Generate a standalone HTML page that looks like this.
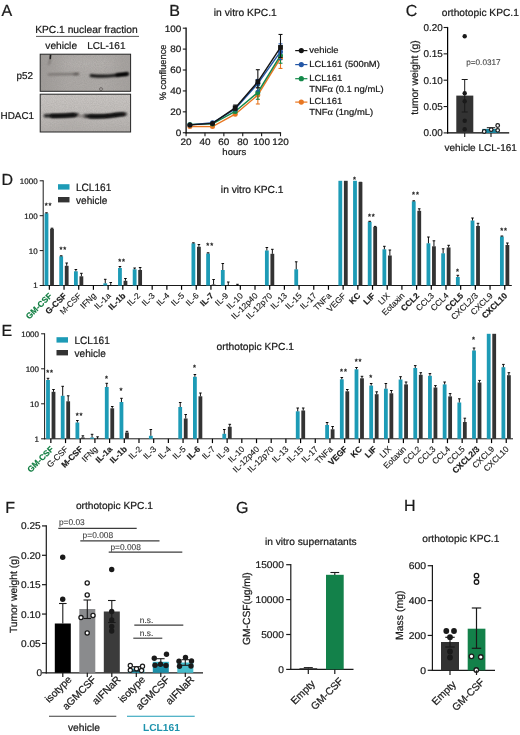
<!DOCTYPE html>
<html lang="en"><head><meta charset="utf-8"><title>Figure</title>
<style>
html,body{margin:0;padding:0;background:#fff;}
body{width:520px;height:735px;overflow:hidden;}
svg{display:block;font-family:"Liberation Sans",Arial,Helvetica,sans-serif;fill:#1a1a1a;text-rendering:geometricPrecision;}
</style></head><body>
<svg width="520" height="735" viewBox="0 0 520 735">
<rect x="0" y="0" width="520" height="735" fill="#ffffff"/>
<text transform="translate(1.50 16.00)" font-size="16" stroke="#1a1a1a" stroke-width="0.22">A</text>
<text transform="translate(169.30 15.50)" font-size="16" stroke="#1a1a1a" stroke-width="0.22">B</text>
<text transform="translate(405.80 15.70)" font-size="16" stroke="#1a1a1a" stroke-width="0.22">C</text>
<text transform="translate(1.50 185.00)" font-size="16" stroke="#1a1a1a" stroke-width="0.22">D</text>
<text transform="translate(1.50 335.60)" font-size="16" stroke="#1a1a1a" stroke-width="0.22">E</text>
<text transform="translate(5.20 513.00)" font-size="16" stroke="#1a1a1a" stroke-width="0.22">F</text>
<text transform="translate(236.00 513.00)" font-size="16" stroke="#1a1a1a" stroke-width="0.22">G</text>
<text transform="translate(404.00 510.80)" font-size="16" stroke="#1a1a1a" stroke-width="0.22">H</text>
<text transform="translate(35.20 33.20)" font-size="10.25" stroke="#1a1a1a" stroke-width="0.22">KPC.1 nuclear fraction</text>
<line x1="36" y1="36.4" x2="139" y2="36.4" stroke="#444" stroke-width="0.9"/>
<text transform="translate(61.20 48.60)" font-size="10.2" text-anchor="middle" stroke="#1a1a1a" stroke-width="0.22">vehicle</text>
<text transform="translate(106.30 48.60)" font-size="10" text-anchor="middle" stroke="#1a1a1a" stroke-width="0.22">LCL-161</text>
<text transform="translate(16.40 79.00)" font-size="9.9" stroke="#1a1a1a" stroke-width="0.22">p52</text>
<text transform="translate(0.60 118.60)" font-size="9.9" stroke="#1a1a1a" stroke-width="0.22">HDAC1</text>
<defs>
<filter id="b1" filterUnits="userSpaceOnUse" x="30" y="45" width="110" height="95"><feGaussianBlur stdDeviation="0.65"/></filter>
<filter id="b2" filterUnits="userSpaceOnUse" x="30" y="45" width="110" height="95"><feGaussianBlur stdDeviation="0.85"/></filter>
<filter id="b3" filterUnits="userSpaceOnUse" x="30" y="45" width="110" height="95"><feGaussianBlur stdDeviation="4"/></filter>
<filter id="nz" x="0" y="0" width="100%" height="100%"><feTurbulence type="fractalNoise" baseFrequency="0.9" numOctaves="2" seed="7"/><feColorMatrix type="matrix" values="0 0 0 0 0.3  0 0 0 0 0.29  0 0 0 0 0.28  0.9 0.5 0 0 -0.52"/></filter>
<linearGradient id="g1" x1="0" x2="1" y1="0" y2="0"><stop offset="0" stop-color="#9f9b98"/><stop offset="0.3" stop-color="#aca8a5"/><stop offset="0.7" stop-color="#aeaaa7"/><stop offset="1" stop-color="#a5a19e"/></linearGradient>
<linearGradient id="g2" x1="0" x2="0" y1="0" y2="1"><stop offset="0" stop-color="#c9c5c2"/><stop offset="0.4" stop-color="#c3bfbc"/><stop offset="1" stop-color="#b3afac"/></linearGradient>
<clipPath id="c1"><rect x="40.2" y="54.2" width="90.4" height="37.1"/></clipPath>
<clipPath id="c2"><rect x="40.2" y="94.2" width="90.4" height="37.8"/></clipPath>
</defs>
<rect x="40.20" y="54.20" width="90.40" height="37.10" fill="url(#g1)"/>
<g clip-path="url(#c1)">
<ellipse cx="88" cy="64" rx="28" ry="6" fill="#b8b4b1" filter="url(#b3)" opacity="0.8"/>
<rect x="40" y="54" width="91" height="38" filter="url(#nz)" opacity="0.8"/>
<path d="M48.5 74.6 L78.3 74.1" stroke="#5f5a57" stroke-width="1.5" stroke-linecap="round" fill="none" filter="url(#b2)" opacity="0.9"/>
<path d="M74 74.2 L78.2 74.0" stroke="#4f4a47" stroke-width="1.3" stroke-linecap="round" fill="none" filter="url(#b2)"/>
<path d="M91 75.6 Q104 76.7 114 75.5 T127.4 73.9" stroke="#020202" stroke-width="2.7" stroke-linecap="round" fill="none" filter="url(#b2)"/>
<path d="M117 75.0 Q122 74.4 127 73.9" stroke="#050505" stroke-width="3.0" stroke-linecap="round" fill="none" filter="url(#b2)"/>
<path d="M50.6 54.4 L50.2 59.2" stroke="#1f1c1b" stroke-width="1.7" fill="none" filter="url(#b1)"/>
<path d="M50.1 59 L49.6 62.5 L48.4 64.8" stroke="#6a6562" stroke-width="1.3" fill="none" filter="url(#b2)"/>
<circle cx="101" cy="89.1" r="1.5" fill="none" stroke="#6f6b68" stroke-width="1.0" filter="url(#b1)"/>
</g>
<rect x="40.20" y="54.20" width="90.40" height="37.10" fill="none" stroke="#262626" stroke-width="1"/>
<rect x="40.20" y="94.20" width="90.40" height="37.80" fill="url(#g2)"/>
<g clip-path="url(#c2)">
<rect x="40" y="94" width="91" height="39" filter="url(#nz)" opacity="0.6"/>
<ellipse cx="70" cy="124" rx="14" ry="3" fill="#a9a5a2" filter="url(#b3)" opacity="0.6"/>
<path d="M45.3 115.7 Q60 116.3 77.3 114.8" stroke="#0c0b0b" stroke-width="3.0" stroke-linecap="round" fill="none" filter="url(#b2)"/>
<path d="M52 115.8 Q62 116.2 74 115.2" stroke="#080707" stroke-width="3.8" stroke-linecap="round" fill="none" filter="url(#b2)"/>
<path d="M85 116.0 Q100 117.0 112 115.5 T125.4 114.0" stroke="#0c0b0b" stroke-width="3.0" stroke-linecap="round" fill="none" filter="url(#b2)"/>
<path d="M90 116.3 Q102 116.8 112 115.5 T122.5 114.4" stroke="#080707" stroke-width="3.7" stroke-linecap="round" fill="none" filter="url(#b2)"/>
<path d="M78 116 L85 116.2" stroke="#7a7572" stroke-width="2.0" fill="none" filter="url(#b2)"/>
</g>
<rect x="40.20" y="94.20" width="90.40" height="37.80" fill="none" stroke="#262626" stroke-width="1"/>
<text transform="translate(245.30 15.60)" font-size="10.3" text-anchor="middle" stroke="#1a1a1a" stroke-width="0.22">in vitro KPC.1</text>
<line x1="186.1" y1="27.589999999999996" x2="186.1" y2="133.35" stroke="#000" stroke-width="1.25"/>
<line x1="185.5" y1="132.75" x2="281.1" y2="132.75" stroke="#000" stroke-width="1.25"/>
<line x1="182.79999999999998" y1="132.75" x2="186.1" y2="132.75" stroke="#1a1a1a" stroke-width="1.1"/>
<text transform="translate(181.30 136.10) scale(1.06 1)" font-size="9.4" text-anchor="end" stroke="#1a1a1a" stroke-width="0.22">0</text>
<line x1="182.79999999999998" y1="111.838" x2="186.1" y2="111.838" stroke="#1a1a1a" stroke-width="1.1"/>
<text transform="translate(181.30 115.19) scale(1.06 1)" font-size="9.4" text-anchor="end" stroke="#1a1a1a" stroke-width="0.22">20</text>
<line x1="182.79999999999998" y1="90.92599999999999" x2="186.1" y2="90.92599999999999" stroke="#1a1a1a" stroke-width="1.1"/>
<text transform="translate(181.30 94.28) scale(1.06 1)" font-size="9.4" text-anchor="end" stroke="#1a1a1a" stroke-width="0.22">40</text>
<line x1="182.79999999999998" y1="70.014" x2="186.1" y2="70.014" stroke="#1a1a1a" stroke-width="1.1"/>
<text transform="translate(181.30 73.36) scale(1.06 1)" font-size="9.4" text-anchor="end" stroke="#1a1a1a" stroke-width="0.22">60</text>
<line x1="182.79999999999998" y1="49.10199999999999" x2="186.1" y2="49.10199999999999" stroke="#1a1a1a" stroke-width="1.1"/>
<text transform="translate(181.30 52.45) scale(1.06 1)" font-size="9.4" text-anchor="end" stroke="#1a1a1a" stroke-width="0.22">80</text>
<line x1="182.79999999999998" y1="28.189999999999998" x2="186.1" y2="28.189999999999998" stroke="#1a1a1a" stroke-width="1.1"/>
<text transform="translate(181.30 31.54) scale(1.06 1)" font-size="9.4" text-anchor="end" stroke="#1a1a1a" stroke-width="0.22">100</text>
<line x1="186.1" y1="132.75" x2="186.1" y2="136.25" stroke="#1a1a1a" stroke-width="1.1"/>
<text transform="translate(186.10 144.85) scale(1.06 1)" font-size="9.4" text-anchor="middle" stroke="#1a1a1a" stroke-width="0.22">20</text>
<line x1="204.98" y1="132.75" x2="204.98" y2="136.25" stroke="#1a1a1a" stroke-width="1.1"/>
<text transform="translate(204.98 144.85) scale(1.06 1)" font-size="9.4" text-anchor="middle" stroke="#1a1a1a" stroke-width="0.22">40</text>
<line x1="223.85999999999999" y1="132.75" x2="223.85999999999999" y2="136.25" stroke="#1a1a1a" stroke-width="1.1"/>
<text transform="translate(223.86 144.85) scale(1.06 1)" font-size="9.4" text-anchor="middle" stroke="#1a1a1a" stroke-width="0.22">60</text>
<line x1="242.74" y1="132.75" x2="242.74" y2="136.25" stroke="#1a1a1a" stroke-width="1.1"/>
<text transform="translate(242.74 144.85) scale(1.06 1)" font-size="9.4" text-anchor="middle" stroke="#1a1a1a" stroke-width="0.22">80</text>
<line x1="261.62" y1="132.75" x2="261.62" y2="136.25" stroke="#1a1a1a" stroke-width="1.1"/>
<text transform="translate(261.62 144.85) scale(1.06 1)" font-size="9.4" text-anchor="middle" stroke="#1a1a1a" stroke-width="0.22">100</text>
<line x1="280.5" y1="132.75" x2="280.5" y2="136.25" stroke="#1a1a1a" stroke-width="1.1"/>
<text transform="translate(280.50 144.85) scale(1.06 1)" font-size="9.4" text-anchor="middle" stroke="#1a1a1a" stroke-width="0.22">120</text>
<text transform="translate(234.30 155.10) scale(1.04 1)" font-size="9.2" text-anchor="middle" stroke="#1a1a1a" stroke-width="0.22">hours</text>
<text transform="translate(165.50 72.40) rotate(-90)" font-size="9.3" text-anchor="middle" stroke="#1a1a1a" stroke-width="0.22">% confluence</text>
<line x1="257.844" y1="87.7892" x2="257.844" y2="103.996" stroke="#e87722" stroke-width="1.1"/>
<line x1="255.844" y1="87.7892" x2="259.844" y2="87.7892" stroke="#e87722" stroke-width="1.1"/>
<line x1="255.844" y1="103.996" x2="259.844" y2="103.996" stroke="#e87722" stroke-width="1.1"/>
<line x1="280.5" y1="49.10199999999999" x2="280.5" y2="68.4456" stroke="#e87722" stroke-width="1.1"/>
<line x1="278.5" y1="49.10199999999999" x2="282.5" y2="49.10199999999999" stroke="#e87722" stroke-width="1.1"/>
<line x1="278.5" y1="68.4456" x2="282.5" y2="68.4456" stroke="#e87722" stroke-width="1.1"/>
<polyline points="189.9,126.5 212.5,126.6 235.2,114.2 257.8,95.1 280.5,58.0" fill="none" stroke="#e87722" stroke-width="1.45"/>
<circle cx="189.9" cy="126.5" r="2.5" fill="#e87722"/>
<circle cx="212.5" cy="126.6" r="2.5" fill="#e87722"/>
<circle cx="235.2" cy="114.2" r="2.5" fill="#e87722"/>
<circle cx="257.8" cy="95.1" r="2.5" fill="#e87722"/>
<circle cx="280.5" cy="58.0" r="2.5" fill="#e87722"/>
<line x1="257.844" y1="85.698" x2="257.844" y2="99.29079999999999" stroke="#14894a" stroke-width="1.1"/>
<line x1="255.844" y1="85.698" x2="259.844" y2="85.698" stroke="#14894a" stroke-width="1.1"/>
<line x1="255.844" y1="99.29079999999999" x2="259.844" y2="99.29079999999999" stroke="#14894a" stroke-width="1.1"/>
<line x1="280.5" y1="47.01079999999999" x2="280.5" y2="63.21759999999999" stroke="#14894a" stroke-width="1.1"/>
<line x1="278.5" y1="47.01079999999999" x2="282.5" y2="47.01079999999999" stroke="#14894a" stroke-width="1.1"/>
<line x1="278.5" y1="63.21759999999999" x2="282.5" y2="63.21759999999999" stroke="#14894a" stroke-width="1.1"/>
<polyline points="189.9,124.4 212.5,123.9 235.2,111.5 257.8,92.5 280.5,55.4" fill="none" stroke="#14894a" stroke-width="1.45"/>
<circle cx="189.9" cy="124.4" r="2.5" fill="#14894a"/>
<circle cx="212.5" cy="123.9" r="2.5" fill="#14894a"/>
<circle cx="235.2" cy="111.5" r="2.5" fill="#14894a"/>
<circle cx="257.8" cy="92.5" r="2.5" fill="#14894a"/>
<circle cx="280.5" cy="55.4" r="2.5" fill="#14894a"/>
<line x1="257.844" y1="79.42439999999999" x2="257.844" y2="90.92599999999999" stroke="#2457a6" stroke-width="1.1"/>
<line x1="255.844" y1="79.42439999999999" x2="259.844" y2="79.42439999999999" stroke="#2457a6" stroke-width="1.1"/>
<line x1="255.844" y1="90.92599999999999" x2="259.844" y2="90.92599999999999" stroke="#2457a6" stroke-width="1.1"/>
<line x1="280.5" y1="43.873999999999995" x2="280.5" y2="59.55799999999999" stroke="#2457a6" stroke-width="1.1"/>
<line x1="278.5" y1="43.873999999999995" x2="282.5" y2="43.873999999999995" stroke="#2457a6" stroke-width="1.1"/>
<line x1="278.5" y1="59.55799999999999" x2="282.5" y2="59.55799999999999" stroke="#2457a6" stroke-width="1.1"/>
<polyline points="189.9,124.9 212.5,122.8 235.2,109.0 257.8,83.6 280.5,51.7" fill="none" stroke="#2457a6" stroke-width="1.45"/>
<circle cx="189.9" cy="124.9" r="2.5" fill="#2457a6"/>
<circle cx="212.5" cy="122.8" r="2.5" fill="#2457a6"/>
<circle cx="235.2" cy="109.0" r="2.5" fill="#2457a6"/>
<circle cx="257.8" cy="83.6" r="2.5" fill="#2457a6"/>
<circle cx="280.5" cy="51.7" r="2.5" fill="#2457a6"/>
<line x1="235.188" y1="105.0416" x2="235.188" y2="110.2696" stroke="#141414" stroke-width="1.1"/>
<line x1="233.188" y1="105.0416" x2="237.188" y2="105.0416" stroke="#141414" stroke-width="1.1"/>
<line x1="233.188" y1="110.2696" x2="237.188" y2="110.2696" stroke="#141414" stroke-width="1.1"/>
<line x1="257.844" y1="69.70032" x2="257.844" y2="87.7892" stroke="#141414" stroke-width="1.1"/>
<line x1="255.844" y1="69.70032" x2="259.844" y2="69.70032" stroke="#141414" stroke-width="1.1"/>
<line x1="255.844" y1="87.7892" x2="259.844" y2="87.7892" stroke="#141414" stroke-width="1.1"/>
<line x1="280.5" y1="34.463599999999985" x2="280.5" y2="57.46679999999999" stroke="#141414" stroke-width="1.1"/>
<line x1="278.5" y1="34.463599999999985" x2="282.5" y2="34.463599999999985" stroke="#141414" stroke-width="1.1"/>
<line x1="278.5" y1="57.46679999999999" x2="282.5" y2="57.46679999999999" stroke="#141414" stroke-width="1.1"/>
<polyline points="189.9,124.9 212.5,123.4 235.2,107.9 257.8,81.8 280.5,47.4" fill="none" stroke="#141414" stroke-width="1.45"/>
<circle cx="189.9" cy="124.9" r="2.5" fill="#141414"/>
<circle cx="212.5" cy="123.4" r="2.5" fill="#141414"/>
<rect x="232.79" y="105.46" width="4.80" height="4.80" fill="#141414"/>
<rect x="255.44" y="79.43" width="4.80" height="4.80" fill="#141414"/>
<rect x="278.10" y="45.03" width="4.80" height="4.80" fill="#141414"/>
<line x1="295.2" y1="50.6" x2="307.4" y2="50.6" stroke="#141414" stroke-width="1.2"/>
<circle cx="301.3" cy="50.6" r="2.6" fill="#141414"/>
<line x1="295.2" y1="64.6" x2="307.4" y2="64.6" stroke="#2457a6" stroke-width="1.2"/>
<circle cx="301.3" cy="64.6" r="2.6" fill="#2457a6"/>
<line x1="295.2" y1="78.7" x2="307.4" y2="78.7" stroke="#14894a" stroke-width="1.2"/>
<circle cx="301.3" cy="78.7" r="2.6" fill="#14894a"/>
<line x1="295.2" y1="102.1" x2="307.4" y2="102.1" stroke="#e87722" stroke-width="1.2"/>
<circle cx="301.3" cy="102.1" r="2.6" fill="#e87722"/>
<text transform="translate(309.20 52.60) scale(1.07 1)" font-size="8.8" stroke="#1a1a1a" stroke-width="0.22">vehicle</text>
<text transform="translate(309.20 66.60) scale(1.07 1)" font-size="8.8" stroke="#1a1a1a" stroke-width="0.22">LCL161 (500nM)</text>
<text transform="translate(309.20 80.80) scale(1.07 1)" font-size="8.8" stroke="#1a1a1a" stroke-width="0.22">LCL161</text>
<text transform="translate(309.20 92.00) scale(1.07 1)" font-size="8.8" stroke="#1a1a1a" stroke-width="0.22">TNF<tspan font-family="Liberation Serif, DejaVu Serif, serif" font-size="9.6">α</tspan> (0.1 ng/mL)</text>
<text transform="translate(309.20 104.00) scale(1.07 1)" font-size="8.8" stroke="#1a1a1a" stroke-width="0.22">LCL161</text>
<text transform="translate(309.20 115.10) scale(1.07 1)" font-size="8.8" stroke="#1a1a1a" stroke-width="0.22">TNF<tspan font-family="Liberation Serif, DejaVu Serif, serif" font-size="9.6">α</tspan> (1ng/mL)</text>
<text transform="translate(480.30 15.70)" font-size="10.2" text-anchor="middle" stroke="#1a1a1a" stroke-width="0.22">orthotopic KPC.1</text>
<line x1="447.6" y1="26.9" x2="447.6" y2="133.5" stroke="#000" stroke-width="1.25"/>
<line x1="447.0" y1="132.9" x2="509.2" y2="132.9" stroke="#000" stroke-width="1.25"/>
<line x1="443.6" y1="132.9" x2="447.6" y2="132.9" stroke="#1a1a1a" stroke-width="1.1"/>
<text transform="translate(442.80 136.40)" font-size="9.9" text-anchor="end" stroke="#1a1a1a" stroke-width="0.22">0.00</text>
<line x1="443.6" y1="106.55000000000001" x2="447.6" y2="106.55000000000001" stroke="#1a1a1a" stroke-width="1.1"/>
<text transform="translate(442.80 110.05)" font-size="9.9" text-anchor="end" stroke="#1a1a1a" stroke-width="0.22">0.05</text>
<line x1="443.6" y1="80.2" x2="447.6" y2="80.2" stroke="#1a1a1a" stroke-width="1.1"/>
<text transform="translate(442.80 83.70)" font-size="9.9" text-anchor="end" stroke="#1a1a1a" stroke-width="0.22">0.10</text>
<line x1="443.6" y1="53.85000000000001" x2="447.6" y2="53.85000000000001" stroke="#1a1a1a" stroke-width="1.1"/>
<text transform="translate(442.80 57.35)" font-size="9.9" text-anchor="end" stroke="#1a1a1a" stroke-width="0.22">0.15</text>
<line x1="443.6" y1="27.5" x2="447.6" y2="27.5" stroke="#1a1a1a" stroke-width="1.1"/>
<text transform="translate(442.80 31.00)" font-size="9.9" text-anchor="end" stroke="#1a1a1a" stroke-width="0.22">0.20</text>
<text transform="translate(418.20 77.50) rotate(-90)" font-size="10.3" text-anchor="middle" stroke="#1a1a1a" stroke-width="0.22">tumor weight (g)</text>
<rect x="456.30" y="95.60" width="17.00" height="37.30" fill="#333333"/>
<line x1="464.7" y1="79.5" x2="464.7" y2="112" stroke="#1a1a1a" stroke-width="1.0"/>
<line x1="461.7" y1="79.5" x2="467.7" y2="79.5" stroke="#1a1a1a" stroke-width="1.0"/>
<line x1="461.7" y1="112" x2="467.7" y2="112" stroke="#1a1a1a" stroke-width="1.0"/>
<circle cx="464.7" cy="36.2" r="2.2" fill="#1a1a1a"/>
<circle cx="464.7" cy="93.2" r="2.2" fill="#1a1a1a"/>
<circle cx="464.7" cy="101.2" r="2.2" fill="#1a1a1a"/>
<circle cx="464.7" cy="120.8" r="2.2" fill="#1a1a1a"/>
<circle cx="464.7" cy="129.2" r="2.2" fill="#1a1a1a"/>
<rect x="482.30" y="128.90" width="16.80" height="4.00" fill="#1a88a2"/>
<line x1="491" y1="127.7" x2="491" y2="131.8" stroke="#1a1a1a" stroke-width="1.0"/>
<line x1="486.8" y1="127.7" x2="495.2" y2="127.7" stroke="#1a1a1a" stroke-width="1.0"/>
<circle cx="484.2" cy="131.5" r="1.8" fill="#fff" stroke="#1a1a1a" stroke-width="1.25"/>
<circle cx="491.2" cy="129.6" r="1.8" fill="#fff" stroke="#1a1a1a" stroke-width="1.25"/>
<circle cx="497.7" cy="125.5" r="1.8" fill="#fff" stroke="#1a1a1a" stroke-width="1.25"/>
<circle cx="497.7" cy="130.3" r="1.8" fill="#fff" stroke="#1a1a1a" stroke-width="1.25"/>
<line x1="464.7" y1="132.9" x2="464.7" y2="136.9" stroke="#1a1a1a" stroke-width="1.1"/>
<line x1="491" y1="132.9" x2="491" y2="136.9" stroke="#1a1a1a" stroke-width="1.1"/>
<text transform="translate(460.10 150.50)" font-size="10" text-anchor="middle" stroke="#1a1a1a" stroke-width="0.22">vehicle</text>
<text transform="translate(497.70 150.50)" font-size="10" text-anchor="middle" stroke="#1a1a1a" stroke-width="0.22">LCL-161</text>
<text transform="translate(483.40 64.90)" font-size="8.2" text-anchor="middle" fill="#444" stroke="#444" stroke-width="0.1">p=0.0317</text>
<line x1="43.2" y1="180.3" x2="43.2" y2="286.0" stroke="#1a1a1a" stroke-width="1.0"/>
<line x1="42.7" y1="285.5" x2="511.8" y2="285.5" stroke="#1a1a1a" stroke-width="1.0"/>
<line x1="39.7" y1="285.5" x2="43.2" y2="285.5" stroke="#1a1a1a" stroke-width="1.0"/>
<text transform="translate(37.60 288.40)" font-size="8.0" text-anchor="end" stroke="#1a1a1a" stroke-width="0.22">1</text>
<line x1="39.7" y1="250.6" x2="43.2" y2="250.6" stroke="#1a1a1a" stroke-width="1.0"/>
<text transform="translate(37.60 253.50)" font-size="8.0" text-anchor="end" stroke="#1a1a1a" stroke-width="0.22">10</text>
<line x1="39.7" y1="215.7" x2="43.2" y2="215.7" stroke="#1a1a1a" stroke-width="1.0"/>
<text transform="translate(37.60 218.60)" font-size="8.0" text-anchor="end" stroke="#1a1a1a" stroke-width="0.22">100</text>
<line x1="39.7" y1="180.8" x2="43.2" y2="180.8" stroke="#1a1a1a" stroke-width="1.0"/>
<text transform="translate(37.60 183.70)" font-size="8.0" text-anchor="end" stroke="#1a1a1a" stroke-width="0.22">1000</text>
<line x1="49.35" y1="285.5" x2="49.35" y2="289.8" stroke="#000" stroke-width="1.2"/>
<rect x="44.60" y="213.30" width="3.80" height="72.20" fill="#1d9bb6"/>
<line x1="46.5" y1="212.8" x2="46.5" y2="213.3" stroke="#000" stroke-width="0.95"/>
<line x1="45.2" y1="212.8" x2="47.8" y2="212.8" stroke="#000" stroke-width="0.95"/>
<rect x="50.10" y="228.80" width="3.80" height="56.70" fill="#333333"/>
<line x1="52.0" y1="228.2" x2="52.0" y2="228.8" stroke="#000" stroke-width="0.95"/>
<line x1="50.7" y1="228.2" x2="53.3" y2="228.2" stroke="#000" stroke-width="0.95"/>
<text transform="translate(52.60 296.30) rotate(-45)" font-size="8.4" text-anchor="end" font-weight="bold" fill="#0f7d40" stroke="#0f7d40" stroke-width="0.18">GM-CSF</text>
<line x1="64.03999999999999" y1="285.5" x2="64.03999999999999" y2="289.8" stroke="#000" stroke-width="1.2"/>
<rect x="59.29" y="256.30" width="3.80" height="29.20" fill="#1d9bb6"/>
<line x1="61.19" y1="255.8" x2="61.19" y2="256.3" stroke="#000" stroke-width="0.95"/>
<line x1="59.89" y1="255.8" x2="62.489999999999995" y2="255.8" stroke="#000" stroke-width="0.95"/>
<rect x="64.79" y="265.80" width="3.80" height="19.70" fill="#333333"/>
<line x1="66.69" y1="263" x2="66.69" y2="265.8" stroke="#000" stroke-width="0.95"/>
<line x1="65.39" y1="263" x2="67.99" y2="263" stroke="#000" stroke-width="0.95"/>
<text transform="translate(67.20 296.30) rotate(-45)" font-size="8.4" text-anchor="end" font-weight="bold" stroke="#1a1a1a" stroke-width="0.18">G-CSF</text>
<line x1="78.73" y1="285.5" x2="78.73" y2="289.8" stroke="#000" stroke-width="1.2"/>
<rect x="73.98" y="271.30" width="3.80" height="14.20" fill="#1d9bb6"/>
<line x1="75.88000000000001" y1="269.5" x2="75.88000000000001" y2="271.3" stroke="#000" stroke-width="0.95"/>
<line x1="74.58000000000001" y1="269.5" x2="77.18" y2="269.5" stroke="#000" stroke-width="0.95"/>
<rect x="79.48" y="276.30" width="3.80" height="9.20" fill="#333333"/>
<line x1="81.38000000000001" y1="273.3" x2="81.38000000000001" y2="276.3" stroke="#000" stroke-width="0.95"/>
<line x1="80.08000000000001" y1="273.3" x2="82.68" y2="273.3" stroke="#000" stroke-width="0.95"/>
<text transform="translate(81.90 296.30) rotate(-45)" font-size="8.4" text-anchor="end" stroke="#1a1a1a" stroke-width="0.13">M-CSF</text>
<line x1="93.42" y1="285.5" x2="93.42" y2="289.8" stroke="#000" stroke-width="1.2"/>
<text transform="translate(96.60 296.30) rotate(-45)" font-size="8.4" text-anchor="end" stroke="#1a1a1a" stroke-width="0.13">IFNg</text>
<line x1="108.11" y1="285.5" x2="108.11" y2="289.8" stroke="#000" stroke-width="1.2"/>
<rect x="103.36" y="283.30" width="3.80" height="2.20" fill="#1d9bb6"/>
<line x1="105.26" y1="279.3" x2="105.26" y2="283.3" stroke="#000" stroke-width="0.95"/>
<line x1="103.96000000000001" y1="279.3" x2="106.56" y2="279.3" stroke="#000" stroke-width="0.95"/>
<line x1="110.76" y1="282.5" x2="110.76" y2="285.5" stroke="#000" stroke-width="0.95"/>
<line x1="109.46000000000001" y1="282.5" x2="112.06" y2="282.5" stroke="#000" stroke-width="0.95"/>
<text transform="translate(111.30 296.30) rotate(-45)" font-size="8.4" text-anchor="end" stroke="#1a1a1a" stroke-width="0.13">IL-1a</text>
<line x1="122.80000000000001" y1="285.5" x2="122.80000000000001" y2="289.8" stroke="#000" stroke-width="1.2"/>
<rect x="118.05" y="268.00" width="3.80" height="17.50" fill="#1d9bb6"/>
<line x1="119.95000000000002" y1="266.5" x2="119.95000000000002" y2="268" stroke="#000" stroke-width="0.95"/>
<line x1="118.65000000000002" y1="266.5" x2="121.25000000000001" y2="266.5" stroke="#000" stroke-width="0.95"/>
<rect x="123.55" y="280.80" width="3.80" height="4.70" fill="#333333"/>
<line x1="125.45000000000002" y1="278.5" x2="125.45000000000002" y2="280.8" stroke="#000" stroke-width="0.95"/>
<line x1="124.15000000000002" y1="278.5" x2="126.75000000000001" y2="278.5" stroke="#000" stroke-width="0.95"/>
<text transform="translate(126.00 296.30) rotate(-45)" font-size="8.4" text-anchor="end" font-weight="bold" stroke="#1a1a1a" stroke-width="0.18">IL-1b</text>
<line x1="137.49" y1="285.5" x2="137.49" y2="289.8" stroke="#000" stroke-width="1.2"/>
<rect x="132.74" y="269.30" width="3.80" height="16.20" fill="#1d9bb6"/>
<line x1="134.64000000000001" y1="268" x2="134.64000000000001" y2="269.3" stroke="#000" stroke-width="0.95"/>
<line x1="133.34" y1="268" x2="135.94000000000003" y2="268" stroke="#000" stroke-width="0.95"/>
<rect x="138.24" y="270.00" width="3.80" height="15.50" fill="#333333"/>
<line x1="140.14000000000001" y1="267.5" x2="140.14000000000001" y2="270" stroke="#000" stroke-width="0.95"/>
<line x1="138.84" y1="267.5" x2="141.44000000000003" y2="267.5" stroke="#000" stroke-width="0.95"/>
<text transform="translate(140.70 296.30) rotate(-45)" font-size="8.4" text-anchor="end" stroke="#1a1a1a" stroke-width="0.13">IL-2</text>
<line x1="152.18" y1="285.5" x2="152.18" y2="289.8" stroke="#000" stroke-width="1.2"/>
<text transform="translate(155.40 296.30) rotate(-45)" font-size="8.4" text-anchor="end" stroke="#1a1a1a" stroke-width="0.13">IL-3</text>
<line x1="166.87" y1="285.5" x2="166.87" y2="289.8" stroke="#000" stroke-width="1.2"/>
<text transform="translate(170.10 296.30) rotate(-45)" font-size="8.4" text-anchor="end" stroke="#1a1a1a" stroke-width="0.13">IL-4</text>
<line x1="181.56" y1="285.5" x2="181.56" y2="289.8" stroke="#000" stroke-width="1.2"/>
<text transform="translate(184.80 296.30) rotate(-45)" font-size="8.4" text-anchor="end" stroke="#1a1a1a" stroke-width="0.13">IL-5</text>
<line x1="196.25" y1="285.5" x2="196.25" y2="289.8" stroke="#000" stroke-width="1.2"/>
<rect x="191.50" y="243.30" width="3.80" height="42.20" fill="#1d9bb6"/>
<line x1="193.4" y1="242.8" x2="193.4" y2="243.3" stroke="#000" stroke-width="0.95"/>
<line x1="192.1" y1="242.8" x2="194.70000000000002" y2="242.8" stroke="#000" stroke-width="0.95"/>
<rect x="197.00" y="246.80" width="3.80" height="38.70" fill="#333333"/>
<line x1="198.9" y1="244.5" x2="198.9" y2="246.8" stroke="#000" stroke-width="0.95"/>
<line x1="197.6" y1="244.5" x2="200.20000000000002" y2="244.5" stroke="#000" stroke-width="0.95"/>
<text transform="translate(199.40 296.30) rotate(-45)" font-size="8.4" text-anchor="end" stroke="#1a1a1a" stroke-width="0.13">IL-6</text>
<line x1="210.94" y1="285.5" x2="210.94" y2="289.8" stroke="#000" stroke-width="1.2"/>
<rect x="206.19" y="253.50" width="3.80" height="32.00" fill="#1d9bb6"/>
<line x1="208.09" y1="252.8" x2="208.09" y2="253.5" stroke="#000" stroke-width="0.95"/>
<line x1="206.79" y1="252.8" x2="209.39000000000001" y2="252.8" stroke="#000" stroke-width="0.95"/>
<rect x="211.69" y="284.50" width="3.80" height="1.00" fill="#333333"/>
<line x1="213.59" y1="279.5" x2="213.59" y2="284.5" stroke="#000" stroke-width="0.95"/>
<line x1="212.29" y1="279.5" x2="214.89000000000001" y2="279.5" stroke="#000" stroke-width="0.95"/>
<text transform="translate(214.10 296.30) rotate(-45)" font-size="8.4" text-anchor="end" font-weight="bold" stroke="#1a1a1a" stroke-width="0.18">IL-7</text>
<line x1="225.63" y1="285.5" x2="225.63" y2="289.8" stroke="#000" stroke-width="1.2"/>
<rect x="220.88" y="270.00" width="3.80" height="15.50" fill="#1d9bb6"/>
<line x1="222.78" y1="263.5" x2="222.78" y2="270" stroke="#000" stroke-width="0.95"/>
<line x1="221.48" y1="263.5" x2="224.08" y2="263.5" stroke="#000" stroke-width="0.95"/>
<line x1="228.28" y1="282" x2="228.28" y2="285.5" stroke="#000" stroke-width="0.95"/>
<line x1="226.98" y1="282" x2="229.58" y2="282" stroke="#000" stroke-width="0.95"/>
<text transform="translate(228.80 296.30) rotate(-45)" font-size="8.4" text-anchor="end" stroke="#1a1a1a" stroke-width="0.13">IL-9</text>
<line x1="240.32" y1="285.5" x2="240.32" y2="289.8" stroke="#000" stroke-width="1.2"/>
<line x1="237.47" y1="284.3" x2="237.47" y2="285.5" stroke="#000" stroke-width="0.95"/>
<line x1="236.17" y1="284.3" x2="238.77" y2="284.3" stroke="#000" stroke-width="0.95"/>
<text transform="translate(243.50 296.30) rotate(-45)" font-size="8.4" text-anchor="end" stroke="#1a1a1a" stroke-width="0.13">IL-10</text>
<line x1="255.01" y1="285.5" x2="255.01" y2="289.8" stroke="#000" stroke-width="1.2"/>
<text transform="translate(258.20 296.30) rotate(-45)" font-size="8.4" text-anchor="end" stroke="#1a1a1a" stroke-width="0.13">IL-12p40</text>
<line x1="269.7" y1="285.5" x2="269.7" y2="289.8" stroke="#000" stroke-width="1.2"/>
<rect x="264.95" y="250.50" width="3.80" height="35.00" fill="#1d9bb6"/>
<line x1="266.84999999999997" y1="247.5" x2="266.84999999999997" y2="250.5" stroke="#000" stroke-width="0.95"/>
<line x1="265.54999999999995" y1="247.5" x2="268.15" y2="247.5" stroke="#000" stroke-width="0.95"/>
<rect x="270.45" y="253.80" width="3.80" height="31.70" fill="#333333"/>
<line x1="272.34999999999997" y1="249.3" x2="272.34999999999997" y2="253.8" stroke="#000" stroke-width="0.95"/>
<line x1="271.04999999999995" y1="249.3" x2="273.65" y2="249.3" stroke="#000" stroke-width="0.95"/>
<text transform="translate(272.90 296.30) rotate(-45)" font-size="8.4" text-anchor="end" stroke="#1a1a1a" stroke-width="0.13">IL-12p70</text>
<line x1="284.39" y1="285.5" x2="284.39" y2="289.8" stroke="#000" stroke-width="1.2"/>
<text transform="translate(287.60 296.30) rotate(-45)" font-size="8.4" text-anchor="end" stroke="#1a1a1a" stroke-width="0.13">IL-13</text>
<line x1="299.08" y1="285.5" x2="299.08" y2="289.8" stroke="#000" stroke-width="1.2"/>
<rect x="294.33" y="269.30" width="3.80" height="16.20" fill="#1d9bb6"/>
<line x1="296.22999999999996" y1="261.8" x2="296.22999999999996" y2="269.3" stroke="#000" stroke-width="0.95"/>
<line x1="294.92999999999995" y1="261.8" x2="297.53" y2="261.8" stroke="#000" stroke-width="0.95"/>
<text transform="translate(302.30 296.30) rotate(-45)" font-size="8.4" text-anchor="end" stroke="#1a1a1a" stroke-width="0.13">IL-15</text>
<line x1="313.77000000000004" y1="285.5" x2="313.77000000000004" y2="289.8" stroke="#000" stroke-width="1.2"/>
<text transform="translate(317.00 296.30) rotate(-45)" font-size="8.4" text-anchor="end" stroke="#1a1a1a" stroke-width="0.13">IL-17</text>
<line x1="328.46000000000004" y1="285.5" x2="328.46000000000004" y2="289.8" stroke="#000" stroke-width="1.2"/>
<text transform="translate(331.70 296.30) rotate(-45)" font-size="8.4" text-anchor="end" stroke="#1a1a1a" stroke-width="0.13">TNFa</text>
<line x1="343.15000000000003" y1="285.5" x2="343.15000000000003" y2="289.8" stroke="#000" stroke-width="1.2"/>
<rect x="338.40" y="180.80" width="3.80" height="104.70" fill="#1d9bb6"/>
<rect x="343.90" y="180.80" width="3.80" height="104.70" fill="#333333"/>
<text transform="translate(346.40 296.30) rotate(-45)" font-size="8.4" text-anchor="end" stroke="#1a1a1a" stroke-width="0.13">VEGF</text>
<line x1="357.84000000000003" y1="285.5" x2="357.84000000000003" y2="289.8" stroke="#000" stroke-width="1.2"/>
<rect x="353.09" y="180.80" width="3.80" height="104.70" fill="#1d9bb6"/>
<rect x="358.59" y="181.80" width="3.80" height="103.70" fill="#333333" rx="0.8"/>
<text transform="translate(361.00 296.30) rotate(-45)" font-size="8.4" text-anchor="end" font-weight="bold" stroke="#1a1a1a" stroke-width="0.18">KC</text>
<line x1="372.53000000000003" y1="285.5" x2="372.53000000000003" y2="289.8" stroke="#000" stroke-width="1.2"/>
<rect x="367.78" y="221.80" width="3.80" height="63.70" fill="#1d9bb6"/>
<line x1="369.68" y1="221.3" x2="369.68" y2="221.8" stroke="#000" stroke-width="0.95"/>
<line x1="368.38" y1="221.3" x2="370.98" y2="221.3" stroke="#000" stroke-width="0.95"/>
<rect x="373.28" y="227.00" width="3.80" height="58.50" fill="#333333"/>
<line x1="375.18" y1="226.4" x2="375.18" y2="227" stroke="#000" stroke-width="0.95"/>
<line x1="373.88" y1="226.4" x2="376.48" y2="226.4" stroke="#000" stroke-width="0.95"/>
<text transform="translate(375.70 296.30) rotate(-45)" font-size="8.4" text-anchor="end" font-weight="bold" stroke="#1a1a1a" stroke-width="0.18">LIF</text>
<line x1="387.22" y1="285.5" x2="387.22" y2="289.8" stroke="#000" stroke-width="1.2"/>
<rect x="382.47" y="249.30" width="3.80" height="36.20" fill="#1d9bb6"/>
<line x1="384.37" y1="246.3" x2="384.37" y2="249.3" stroke="#000" stroke-width="0.95"/>
<line x1="383.07" y1="246.3" x2="385.67" y2="246.3" stroke="#000" stroke-width="0.95"/>
<rect x="387.97" y="255.50" width="3.80" height="30.00" fill="#333333"/>
<line x1="389.87" y1="250" x2="389.87" y2="255.5" stroke="#000" stroke-width="0.95"/>
<line x1="388.57" y1="250" x2="391.17" y2="250" stroke="#000" stroke-width="0.95"/>
<text transform="translate(390.40 296.30) rotate(-45)" font-size="8.4" text-anchor="end" stroke="#1a1a1a" stroke-width="0.13">LIX</text>
<line x1="401.91" y1="285.5" x2="401.91" y2="289.8" stroke="#000" stroke-width="1.2"/>
<text transform="translate(405.10 296.30) rotate(-45)" font-size="8.4" text-anchor="end" stroke="#1a1a1a" stroke-width="0.13">Eotaxin</text>
<line x1="416.6" y1="285.5" x2="416.6" y2="289.8" stroke="#000" stroke-width="1.2"/>
<rect x="411.85" y="201.30" width="3.80" height="84.20" fill="#1d9bb6"/>
<line x1="413.75" y1="200.8" x2="413.75" y2="201.3" stroke="#000" stroke-width="0.95"/>
<line x1="412.45" y1="200.8" x2="415.05" y2="200.8" stroke="#000" stroke-width="0.95"/>
<rect x="417.35" y="210.80" width="3.80" height="74.70" fill="#333333"/>
<line x1="419.25" y1="208.8" x2="419.25" y2="210.8" stroke="#000" stroke-width="0.95"/>
<line x1="417.95" y1="208.8" x2="420.55" y2="208.8" stroke="#000" stroke-width="0.95"/>
<text transform="translate(419.80 296.30) rotate(-45)" font-size="8.4" text-anchor="end" font-weight="bold" stroke="#1a1a1a" stroke-width="0.18">CCL2</text>
<line x1="431.29" y1="285.5" x2="431.29" y2="289.8" stroke="#000" stroke-width="1.2"/>
<rect x="426.54" y="243.30" width="3.80" height="42.20" fill="#1d9bb6"/>
<line x1="428.44" y1="237" x2="428.44" y2="243.3" stroke="#000" stroke-width="0.95"/>
<line x1="427.14" y1="237" x2="429.74" y2="237" stroke="#000" stroke-width="0.95"/>
<rect x="432.04" y="246.30" width="3.80" height="39.20" fill="#333333"/>
<line x1="433.94" y1="240.8" x2="433.94" y2="246.3" stroke="#000" stroke-width="0.95"/>
<line x1="432.64" y1="240.8" x2="435.24" y2="240.8" stroke="#000" stroke-width="0.95"/>
<text transform="translate(434.50 296.30) rotate(-45)" font-size="8.4" text-anchor="end" stroke="#1a1a1a" stroke-width="0.13">CCL3</text>
<line x1="445.98" y1="285.5" x2="445.98" y2="289.8" stroke="#000" stroke-width="1.2"/>
<rect x="441.23" y="253.30" width="3.80" height="32.20" fill="#1d9bb6"/>
<line x1="443.13" y1="248.8" x2="443.13" y2="253.3" stroke="#000" stroke-width="0.95"/>
<line x1="441.83" y1="248.8" x2="444.43" y2="248.8" stroke="#000" stroke-width="0.95"/>
<rect x="446.73" y="247.50" width="3.80" height="38.00" fill="#333333"/>
<line x1="448.63" y1="245.3" x2="448.63" y2="247.5" stroke="#000" stroke-width="0.95"/>
<line x1="447.33" y1="245.3" x2="449.93" y2="245.3" stroke="#000" stroke-width="0.95"/>
<text transform="translate(449.20 296.30) rotate(-45)" font-size="8.4" text-anchor="end" stroke="#1a1a1a" stroke-width="0.13">CCL4</text>
<line x1="460.67" y1="285.5" x2="460.67" y2="289.8" stroke="#000" stroke-width="1.2"/>
<rect x="455.92" y="277.00" width="3.80" height="8.50" fill="#1d9bb6"/>
<line x1="457.82" y1="275.3" x2="457.82" y2="277" stroke="#000" stroke-width="0.95"/>
<line x1="456.52" y1="275.3" x2="459.12" y2="275.3" stroke="#000" stroke-width="0.95"/>
<text transform="translate(463.90 296.30) rotate(-45)" font-size="8.4" text-anchor="end" font-weight="bold" stroke="#1a1a1a" stroke-width="0.18">CCL5</text>
<line x1="475.36" y1="285.5" x2="475.36" y2="289.8" stroke="#000" stroke-width="1.2"/>
<rect x="470.61" y="220.50" width="3.80" height="65.00" fill="#1d9bb6"/>
<line x1="472.51" y1="218" x2="472.51" y2="220.5" stroke="#000" stroke-width="0.95"/>
<line x1="471.21" y1="218" x2="473.81" y2="218" stroke="#000" stroke-width="0.95"/>
<rect x="476.11" y="226.00" width="3.80" height="59.50" fill="#333333"/>
<line x1="478.01" y1="223.3" x2="478.01" y2="226" stroke="#000" stroke-width="0.95"/>
<line x1="476.71" y1="223.3" x2="479.31" y2="223.3" stroke="#000" stroke-width="0.95"/>
<text transform="translate(478.60 296.30) rotate(-45)" font-size="8.4" text-anchor="end" stroke="#1a1a1a" stroke-width="0.13">CXCL2/3</text>
<line x1="490.05" y1="285.5" x2="490.05" y2="289.8" stroke="#000" stroke-width="1.2"/>
<text transform="translate(493.20 296.30) rotate(-45)" font-size="8.4" text-anchor="end" stroke="#1a1a1a" stroke-width="0.13">CXCL9</text>
<line x1="504.74" y1="285.5" x2="504.74" y2="289.8" stroke="#000" stroke-width="1.2"/>
<rect x="499.99" y="236.50" width="3.80" height="49.00" fill="#1d9bb6"/>
<line x1="501.89" y1="236" x2="501.89" y2="236.5" stroke="#000" stroke-width="0.95"/>
<line x1="500.59" y1="236" x2="503.19" y2="236" stroke="#000" stroke-width="0.95"/>
<rect x="505.49" y="245.00" width="3.80" height="40.50" fill="#333333"/>
<line x1="507.39" y1="243" x2="507.39" y2="245" stroke="#000" stroke-width="0.95"/>
<line x1="506.09" y1="243" x2="508.69" y2="243" stroke="#000" stroke-width="0.95"/>
<text transform="translate(507.90 296.30) rotate(-45)" font-size="8.4" text-anchor="end" font-weight="bold" stroke="#1a1a1a" stroke-width="0.18">CXCL10</text>
<text transform="translate(48.60 207.60)" font-size="7.6" text-anchor="middle" stroke="#1a1a1a" stroke-width="0.3" letter-spacing="0.9">**</text>
<text transform="translate(63.30 251.60)" font-size="7.6" text-anchor="middle" stroke="#1a1a1a" stroke-width="0.3" letter-spacing="0.9">**</text>
<text transform="translate(122.10 263.60)" font-size="7.6" text-anchor="middle" stroke="#1a1a1a" stroke-width="0.3" letter-spacing="0.9">**</text>
<text transform="translate(210.20 248.40)" font-size="7.6" text-anchor="middle" stroke="#1a1a1a" stroke-width="0.3" letter-spacing="0.9">**</text>
<text transform="translate(355.00 181.60)" font-size="7.6" text-anchor="middle" stroke="#1a1a1a" stroke-width="0.3" letter-spacing="0.9">*</text>
<text transform="translate(371.80 218.60)" font-size="7.6" text-anchor="middle" stroke="#1a1a1a" stroke-width="0.3" letter-spacing="0.9">**</text>
<text transform="translate(415.90 197.10)" font-size="7.6" text-anchor="middle" stroke="#1a1a1a" stroke-width="0.3" letter-spacing="0.9">**</text>
<text transform="translate(457.80 273.60)" font-size="7.6" text-anchor="middle" stroke="#1a1a1a" stroke-width="0.3" letter-spacing="0.9">*</text>
<text transform="translate(504.00 233.40)" font-size="7.6" text-anchor="middle" stroke="#1a1a1a" stroke-width="0.3" letter-spacing="0.9">**</text>
<text transform="translate(252.20 193.30)" font-size="10.25" text-anchor="middle" stroke="#1a1a1a" stroke-width="0.22">in vitro KPC.1</text>
<rect x="58.00" y="184.20" width="11.50" height="5.40" fill="#1d9bb6"/>
<rect x="58.00" y="197.00" width="11.50" height="5.40" fill="#333333"/>
<text transform="translate(76.00 190.70) scale(0.95 1)" font-size="10.6" stroke="#1a1a1a" stroke-width="0.22">LCL161</text>
<text transform="translate(76.00 203.60) scale(0.95 1)" font-size="10.6" stroke="#1a1a1a" stroke-width="0.22">vehicle</text>
<line x1="44.6" y1="333.3" x2="44.6" y2="439.3" stroke="#1a1a1a" stroke-width="1.0"/>
<line x1="44.1" y1="438.8" x2="513" y2="438.8" stroke="#1a1a1a" stroke-width="1.0"/>
<line x1="41.1" y1="438.8" x2="44.6" y2="438.8" stroke="#1a1a1a" stroke-width="1.0"/>
<text transform="translate(39.00 441.70)" font-size="8.0" text-anchor="end" stroke="#1a1a1a" stroke-width="0.22">1</text>
<line x1="41.1" y1="403.8" x2="44.6" y2="403.8" stroke="#1a1a1a" stroke-width="1.0"/>
<text transform="translate(39.00 406.70)" font-size="8.0" text-anchor="end" stroke="#1a1a1a" stroke-width="0.22">10</text>
<line x1="41.1" y1="368.8" x2="44.6" y2="368.8" stroke="#1a1a1a" stroke-width="1.0"/>
<text transform="translate(39.00 371.70)" font-size="8.0" text-anchor="end" stroke="#1a1a1a" stroke-width="0.22">100</text>
<line x1="41.1" y1="333.8" x2="44.6" y2="333.8" stroke="#1a1a1a" stroke-width="1.0"/>
<text transform="translate(39.00 336.70)" font-size="8.0" text-anchor="end" stroke="#1a1a1a" stroke-width="0.22">1000</text>
<line x1="50.85" y1="438.8" x2="50.85" y2="443.1" stroke="#000" stroke-width="1.2"/>
<rect x="46.10" y="380.00" width="3.80" height="58.80" fill="#1d9bb6"/>
<line x1="48.0" y1="378.3" x2="48.0" y2="380" stroke="#000" stroke-width="0.95"/>
<line x1="46.7" y1="378.3" x2="49.3" y2="378.3" stroke="#000" stroke-width="0.95"/>
<rect x="51.60" y="391.80" width="3.80" height="47.00" fill="#333333"/>
<line x1="53.5" y1="389.5" x2="53.5" y2="391.8" stroke="#000" stroke-width="0.95"/>
<line x1="52.2" y1="389.5" x2="54.8" y2="389.5" stroke="#000" stroke-width="0.95"/>
<text transform="translate(54.10 449.60) rotate(-45)" font-size="8.4" text-anchor="end" font-weight="bold" fill="#0f7d40" stroke="#0f7d40" stroke-width="0.18">GM-CSF</text>
<line x1="65.53999999999999" y1="438.8" x2="65.53999999999999" y2="443.1" stroke="#000" stroke-width="1.2"/>
<rect x="60.79" y="395.80" width="3.80" height="43.00" fill="#1d9bb6"/>
<line x1="62.69" y1="386.3" x2="62.69" y2="395.8" stroke="#000" stroke-width="0.95"/>
<line x1="61.39" y1="386.3" x2="63.989999999999995" y2="386.3" stroke="#000" stroke-width="0.95"/>
<rect x="66.29" y="401.30" width="3.80" height="37.50" fill="#333333"/>
<line x1="68.19" y1="395.8" x2="68.19" y2="401.3" stroke="#000" stroke-width="0.95"/>
<line x1="66.89" y1="395.8" x2="69.49" y2="395.8" stroke="#000" stroke-width="0.95"/>
<text transform="translate(68.70 449.60) rotate(-45)" font-size="8.4" text-anchor="end" stroke="#1a1a1a" stroke-width="0.13">G-CSF</text>
<line x1="80.23" y1="438.8" x2="80.23" y2="443.1" stroke="#000" stroke-width="1.2"/>
<rect x="75.48" y="422.50" width="3.80" height="16.30" fill="#1d9bb6"/>
<line x1="77.38000000000001" y1="420.5" x2="77.38000000000001" y2="422.5" stroke="#000" stroke-width="0.95"/>
<line x1="76.08000000000001" y1="420.5" x2="78.68" y2="420.5" stroke="#000" stroke-width="0.95"/>
<rect x="80.98" y="437.50" width="3.80" height="1.30" fill="#333333"/>
<line x1="82.88000000000001" y1="435.8" x2="82.88000000000001" y2="437.5" stroke="#000" stroke-width="0.95"/>
<line x1="81.58000000000001" y1="435.8" x2="84.18" y2="435.8" stroke="#000" stroke-width="0.95"/>
<text transform="translate(83.40 449.60) rotate(-45)" font-size="8.4" text-anchor="end" font-weight="bold" stroke="#1a1a1a" stroke-width="0.18">M-CSF</text>
<line x1="94.92" y1="438.8" x2="94.92" y2="443.1" stroke="#000" stroke-width="1.2"/>
<rect x="90.17" y="437.50" width="3.80" height="1.30" fill="#1d9bb6"/>
<line x1="92.07000000000001" y1="434.3" x2="92.07000000000001" y2="437.5" stroke="#000" stroke-width="0.95"/>
<line x1="90.77000000000001" y1="434.3" x2="93.37" y2="434.3" stroke="#000" stroke-width="0.95"/>
<line x1="97.57000000000001" y1="436.8" x2="97.57000000000001" y2="438.8" stroke="#000" stroke-width="0.95"/>
<line x1="96.27000000000001" y1="436.8" x2="98.87" y2="436.8" stroke="#000" stroke-width="0.95"/>
<text transform="translate(98.10 449.60) rotate(-45)" font-size="8.4" text-anchor="end" stroke="#1a1a1a" stroke-width="0.13">IFNg</text>
<line x1="109.61" y1="438.8" x2="109.61" y2="443.1" stroke="#000" stroke-width="1.2"/>
<rect x="104.86" y="387.00" width="3.80" height="51.80" fill="#1d9bb6"/>
<line x1="106.76" y1="383.3" x2="106.76" y2="387" stroke="#000" stroke-width="0.95"/>
<line x1="105.46000000000001" y1="383.3" x2="108.06" y2="383.3" stroke="#000" stroke-width="0.95"/>
<rect x="110.36" y="408.30" width="3.80" height="30.50" fill="#333333"/>
<line x1="112.26" y1="406.5" x2="112.26" y2="408.3" stroke="#000" stroke-width="0.95"/>
<line x1="110.96000000000001" y1="406.5" x2="113.56" y2="406.5" stroke="#000" stroke-width="0.95"/>
<text transform="translate(112.80 449.60) rotate(-45)" font-size="8.4" text-anchor="end" font-weight="bold" stroke="#1a1a1a" stroke-width="0.18">IL-1a</text>
<line x1="124.30000000000001" y1="438.8" x2="124.30000000000001" y2="443.1" stroke="#000" stroke-width="1.2"/>
<rect x="119.55" y="402.00" width="3.80" height="36.80" fill="#1d9bb6"/>
<line x1="121.45000000000002" y1="398.3" x2="121.45000000000002" y2="402" stroke="#000" stroke-width="0.95"/>
<line x1="120.15000000000002" y1="398.3" x2="122.75000000000001" y2="398.3" stroke="#000" stroke-width="0.95"/>
<rect x="125.05" y="432.50" width="3.80" height="6.30" fill="#333333"/>
<line x1="126.95000000000002" y1="431.3" x2="126.95000000000002" y2="432.5" stroke="#000" stroke-width="0.95"/>
<line x1="125.65000000000002" y1="431.3" x2="128.25000000000003" y2="431.3" stroke="#000" stroke-width="0.95"/>
<text transform="translate(127.50 449.60) rotate(-45)" font-size="8.4" text-anchor="end" font-weight="bold" stroke="#1a1a1a" stroke-width="0.18">IL-1b</text>
<line x1="138.99" y1="438.8" x2="138.99" y2="443.1" stroke="#000" stroke-width="1.2"/>
<text transform="translate(142.20 449.60) rotate(-45)" font-size="8.4" text-anchor="end" stroke="#1a1a1a" stroke-width="0.13">IL-2</text>
<line x1="153.68" y1="438.8" x2="153.68" y2="443.1" stroke="#000" stroke-width="1.2"/>
<rect x="148.93" y="435.80" width="3.80" height="3.00" fill="#1d9bb6"/>
<line x1="150.83" y1="429.5" x2="150.83" y2="435.8" stroke="#000" stroke-width="0.95"/>
<line x1="149.53" y1="429.5" x2="152.13000000000002" y2="429.5" stroke="#000" stroke-width="0.95"/>
<text transform="translate(156.90 449.60) rotate(-45)" font-size="8.4" text-anchor="end" stroke="#1a1a1a" stroke-width="0.13">IL-3</text>
<line x1="168.37" y1="438.8" x2="168.37" y2="443.1" stroke="#000" stroke-width="1.2"/>
<text transform="translate(171.60 449.60) rotate(-45)" font-size="8.4" text-anchor="end" stroke="#1a1a1a" stroke-width="0.13">IL-4</text>
<line x1="183.06" y1="438.8" x2="183.06" y2="443.1" stroke="#000" stroke-width="1.2"/>
<rect x="178.31" y="407.00" width="3.80" height="31.80" fill="#1d9bb6"/>
<line x1="180.21" y1="402.5" x2="180.21" y2="407" stroke="#000" stroke-width="0.95"/>
<line x1="178.91" y1="402.5" x2="181.51000000000002" y2="402.5" stroke="#000" stroke-width="0.95"/>
<rect x="183.81" y="418.50" width="3.80" height="20.30" fill="#333333"/>
<line x1="185.71" y1="414.5" x2="185.71" y2="418.5" stroke="#000" stroke-width="0.95"/>
<line x1="184.41" y1="414.5" x2="187.01000000000002" y2="414.5" stroke="#000" stroke-width="0.95"/>
<text transform="translate(186.30 449.60) rotate(-45)" font-size="8.4" text-anchor="end" stroke="#1a1a1a" stroke-width="0.13">IL-5</text>
<line x1="197.75" y1="438.8" x2="197.75" y2="443.1" stroke="#000" stroke-width="1.2"/>
<rect x="193.00" y="376.80" width="3.80" height="62.00" fill="#1d9bb6"/>
<line x1="194.9" y1="374.5" x2="194.9" y2="376.8" stroke="#000" stroke-width="0.95"/>
<line x1="193.6" y1="374.5" x2="196.20000000000002" y2="374.5" stroke="#000" stroke-width="0.95"/>
<rect x="198.50" y="396.30" width="3.80" height="42.50" fill="#333333"/>
<line x1="200.4" y1="393" x2="200.4" y2="396.3" stroke="#000" stroke-width="0.95"/>
<line x1="199.1" y1="393" x2="201.70000000000002" y2="393" stroke="#000" stroke-width="0.95"/>
<text transform="translate(200.90 449.60) rotate(-45)" font-size="8.4" text-anchor="end" font-weight="bold" stroke="#1a1a1a" stroke-width="0.18">IL-6</text>
<line x1="212.44" y1="438.8" x2="212.44" y2="443.1" stroke="#000" stroke-width="1.2"/>
<text transform="translate(215.60 449.60) rotate(-45)" font-size="8.4" text-anchor="end" stroke="#1a1a1a" stroke-width="0.13">IL-7</text>
<line x1="227.13" y1="438.8" x2="227.13" y2="443.1" stroke="#000" stroke-width="1.2"/>
<rect x="222.38" y="433.80" width="3.80" height="5.00" fill="#1d9bb6"/>
<line x1="224.28" y1="429.5" x2="224.28" y2="433.8" stroke="#000" stroke-width="0.95"/>
<line x1="222.98" y1="429.5" x2="225.58" y2="429.5" stroke="#000" stroke-width="0.95"/>
<rect x="227.88" y="426.80" width="3.80" height="12.00" fill="#333333"/>
<line x1="229.78" y1="424.3" x2="229.78" y2="426.8" stroke="#000" stroke-width="0.95"/>
<line x1="228.48" y1="424.3" x2="231.08" y2="424.3" stroke="#000" stroke-width="0.95"/>
<text transform="translate(230.30 449.60) rotate(-45)" font-size="8.4" text-anchor="end" stroke="#1a1a1a" stroke-width="0.13">IL-9</text>
<line x1="241.82" y1="438.8" x2="241.82" y2="443.1" stroke="#000" stroke-width="1.2"/>
<text transform="translate(245.00 449.60) rotate(-45)" font-size="8.4" text-anchor="end" stroke="#1a1a1a" stroke-width="0.13">IL-10</text>
<line x1="256.51" y1="438.8" x2="256.51" y2="443.1" stroke="#000" stroke-width="1.2"/>
<text transform="translate(259.70 449.60) rotate(-45)" font-size="8.4" text-anchor="end" stroke="#1a1a1a" stroke-width="0.13">IL-12p40</text>
<line x1="271.2" y1="438.8" x2="271.2" y2="443.1" stroke="#000" stroke-width="1.2"/>
<text transform="translate(274.40 449.60) rotate(-45)" font-size="8.4" text-anchor="end" stroke="#1a1a1a" stroke-width="0.13">IL-12p70</text>
<line x1="285.89" y1="438.8" x2="285.89" y2="443.1" stroke="#000" stroke-width="1.2"/>
<text transform="translate(289.10 449.60) rotate(-45)" font-size="8.4" text-anchor="end" stroke="#1a1a1a" stroke-width="0.13">IL-13</text>
<line x1="300.58" y1="438.8" x2="300.58" y2="443.1" stroke="#000" stroke-width="1.2"/>
<rect x="295.83" y="411.30" width="3.80" height="27.50" fill="#1d9bb6"/>
<line x1="297.72999999999996" y1="408" x2="297.72999999999996" y2="411.3" stroke="#000" stroke-width="0.95"/>
<line x1="296.42999999999995" y1="408" x2="299.03" y2="408" stroke="#000" stroke-width="0.95"/>
<rect x="301.33" y="410.50" width="3.80" height="28.30" fill="#333333"/>
<line x1="303.22999999999996" y1="408" x2="303.22999999999996" y2="410.5" stroke="#000" stroke-width="0.95"/>
<line x1="301.92999999999995" y1="408" x2="304.53" y2="408" stroke="#000" stroke-width="0.95"/>
<text transform="translate(303.80 449.60) rotate(-45)" font-size="8.4" text-anchor="end" stroke="#1a1a1a" stroke-width="0.13">IL-15</text>
<line x1="315.27000000000004" y1="438.8" x2="315.27000000000004" y2="443.1" stroke="#000" stroke-width="1.2"/>
<text transform="translate(318.50 449.60) rotate(-45)" font-size="8.4" text-anchor="end" stroke="#1a1a1a" stroke-width="0.13">IL-17</text>
<line x1="329.96000000000004" y1="438.8" x2="329.96000000000004" y2="443.1" stroke="#000" stroke-width="1.2"/>
<rect x="325.21" y="425.00" width="3.80" height="13.80" fill="#1d9bb6"/>
<line x1="327.11" y1="422.5" x2="327.11" y2="425" stroke="#000" stroke-width="0.95"/>
<line x1="325.81" y1="422.5" x2="328.41" y2="422.5" stroke="#000" stroke-width="0.95"/>
<rect x="330.71" y="429.30" width="3.80" height="9.50" fill="#333333"/>
<line x1="332.61" y1="426.5" x2="332.61" y2="429.3" stroke="#000" stroke-width="0.95"/>
<line x1="331.31" y1="426.5" x2="333.91" y2="426.5" stroke="#000" stroke-width="0.95"/>
<text transform="translate(333.20 449.60) rotate(-45)" font-size="8.4" text-anchor="end" stroke="#1a1a1a" stroke-width="0.13">TNFa</text>
<line x1="344.65000000000003" y1="438.8" x2="344.65000000000003" y2="443.1" stroke="#000" stroke-width="1.2"/>
<rect x="339.90" y="379.30" width="3.80" height="59.50" fill="#1d9bb6"/>
<line x1="341.8" y1="377.5" x2="341.8" y2="379.3" stroke="#000" stroke-width="0.95"/>
<line x1="340.5" y1="377.5" x2="343.1" y2="377.5" stroke="#000" stroke-width="0.95"/>
<rect x="345.40" y="391.30" width="3.80" height="47.50" fill="#333333"/>
<line x1="347.3" y1="389.5" x2="347.3" y2="391.3" stroke="#000" stroke-width="0.95"/>
<line x1="346.0" y1="389.5" x2="348.6" y2="389.5" stroke="#000" stroke-width="0.95"/>
<text transform="translate(347.90 449.60) rotate(-45)" font-size="8.4" text-anchor="end" font-weight="bold" stroke="#1a1a1a" stroke-width="0.18">VEGF</text>
<line x1="359.34000000000003" y1="438.8" x2="359.34000000000003" y2="443.1" stroke="#000" stroke-width="1.2"/>
<rect x="354.59" y="369.30" width="3.80" height="69.50" fill="#1d9bb6"/>
<line x1="356.49" y1="367.5" x2="356.49" y2="369.3" stroke="#000" stroke-width="0.95"/>
<line x1="355.19" y1="367.5" x2="357.79" y2="367.5" stroke="#000" stroke-width="0.95"/>
<rect x="360.09" y="378.30" width="3.80" height="60.50" fill="#333333"/>
<line x1="361.99" y1="376.3" x2="361.99" y2="378.3" stroke="#000" stroke-width="0.95"/>
<line x1="360.69" y1="376.3" x2="363.29" y2="376.3" stroke="#000" stroke-width="0.95"/>
<text transform="translate(362.50 449.60) rotate(-45)" font-size="8.4" text-anchor="end" font-weight="bold" stroke="#1a1a1a" stroke-width="0.18">KC</text>
<line x1="374.03000000000003" y1="438.8" x2="374.03000000000003" y2="443.1" stroke="#000" stroke-width="1.2"/>
<rect x="369.28" y="385.60" width="3.80" height="53.20" fill="#1d9bb6"/>
<line x1="371.18" y1="383.5" x2="371.18" y2="385.6" stroke="#000" stroke-width="0.95"/>
<line x1="369.88" y1="383.5" x2="372.48" y2="383.5" stroke="#000" stroke-width="0.95"/>
<rect x="374.78" y="394.20" width="3.80" height="44.60" fill="#333333"/>
<line x1="376.68" y1="391.8" x2="376.68" y2="394.2" stroke="#000" stroke-width="0.95"/>
<line x1="375.38" y1="391.8" x2="377.98" y2="391.8" stroke="#000" stroke-width="0.95"/>
<text transform="translate(377.20 449.60) rotate(-45)" font-size="8.4" text-anchor="end" font-weight="bold" stroke="#1a1a1a" stroke-width="0.18">LIF</text>
<line x1="388.72" y1="438.8" x2="388.72" y2="443.1" stroke="#000" stroke-width="1.2"/>
<rect x="383.97" y="388.70" width="3.80" height="50.10" fill="#1d9bb6"/>
<line x1="385.87" y1="383.5" x2="385.87" y2="388.7" stroke="#000" stroke-width="0.95"/>
<line x1="384.57" y1="383.5" x2="387.17" y2="383.5" stroke="#000" stroke-width="0.95"/>
<rect x="389.47" y="393.30" width="3.80" height="45.50" fill="#333333"/>
<line x1="391.37" y1="390.5" x2="391.37" y2="393.3" stroke="#000" stroke-width="0.95"/>
<line x1="390.07" y1="390.5" x2="392.67" y2="390.5" stroke="#000" stroke-width="0.95"/>
<text transform="translate(391.90 449.60) rotate(-45)" font-size="8.4" text-anchor="end" stroke="#1a1a1a" stroke-width="0.13">LIX</text>
<line x1="403.41" y1="438.8" x2="403.41" y2="443.1" stroke="#000" stroke-width="1.2"/>
<rect x="398.66" y="379.50" width="3.80" height="59.30" fill="#1d9bb6"/>
<line x1="400.56" y1="376.7" x2="400.56" y2="379.5" stroke="#000" stroke-width="0.95"/>
<line x1="399.26" y1="376.7" x2="401.86" y2="376.7" stroke="#000" stroke-width="0.95"/>
<rect x="404.16" y="384.40" width="3.80" height="54.40" fill="#333333"/>
<line x1="406.06" y1="382" x2="406.06" y2="384.4" stroke="#000" stroke-width="0.95"/>
<line x1="404.76" y1="382" x2="407.36" y2="382" stroke="#000" stroke-width="0.95"/>
<text transform="translate(406.60 449.60) rotate(-45)" font-size="8.4" text-anchor="end" stroke="#1a1a1a" stroke-width="0.13">Eotaxin</text>
<line x1="418.1" y1="438.8" x2="418.1" y2="443.1" stroke="#000" stroke-width="1.2"/>
<rect x="413.35" y="368.00" width="3.80" height="70.80" fill="#1d9bb6"/>
<line x1="415.25" y1="365.6" x2="415.25" y2="368" stroke="#000" stroke-width="0.95"/>
<line x1="413.95" y1="365.6" x2="416.55" y2="365.6" stroke="#000" stroke-width="0.95"/>
<rect x="418.85" y="374.80" width="3.80" height="64.00" fill="#333333"/>
<line x1="420.75" y1="372.7" x2="420.75" y2="374.8" stroke="#000" stroke-width="0.95"/>
<line x1="419.45" y1="372.7" x2="422.05" y2="372.7" stroke="#000" stroke-width="0.95"/>
<text transform="translate(421.30 449.60) rotate(-45)" font-size="8.4" text-anchor="end" stroke="#1a1a1a" stroke-width="0.13">CCL2</text>
<line x1="432.79" y1="438.8" x2="432.79" y2="443.1" stroke="#000" stroke-width="1.2"/>
<rect x="428.04" y="375.80" width="3.80" height="63.00" fill="#1d9bb6"/>
<line x1="429.94" y1="373.6" x2="429.94" y2="375.8" stroke="#000" stroke-width="0.95"/>
<line x1="428.64" y1="373.6" x2="431.24" y2="373.6" stroke="#000" stroke-width="0.95"/>
<rect x="433.54" y="387.50" width="3.80" height="51.30" fill="#333333"/>
<line x1="435.44" y1="385.6" x2="435.44" y2="387.5" stroke="#000" stroke-width="0.95"/>
<line x1="434.14" y1="385.6" x2="436.74" y2="385.6" stroke="#000" stroke-width="0.95"/>
<text transform="translate(436.00 449.60) rotate(-45)" font-size="8.4" text-anchor="end" stroke="#1a1a1a" stroke-width="0.13">CCL3</text>
<line x1="447.48" y1="438.8" x2="447.48" y2="443.1" stroke="#000" stroke-width="1.2"/>
<rect x="442.73" y="384.40" width="3.80" height="54.40" fill="#1d9bb6"/>
<line x1="444.63" y1="382" x2="444.63" y2="384.4" stroke="#000" stroke-width="0.95"/>
<line x1="443.33" y1="382" x2="445.93" y2="382" stroke="#000" stroke-width="0.95"/>
<rect x="448.23" y="396.40" width="3.80" height="42.40" fill="#333333"/>
<line x1="450.13" y1="393.6" x2="450.13" y2="396.4" stroke="#000" stroke-width="0.95"/>
<line x1="448.83" y1="393.6" x2="451.43" y2="393.6" stroke="#000" stroke-width="0.95"/>
<text transform="translate(450.70 449.60) rotate(-45)" font-size="8.4" text-anchor="end" stroke="#1a1a1a" stroke-width="0.13">CCL4</text>
<line x1="462.17" y1="438.8" x2="462.17" y2="443.1" stroke="#000" stroke-width="1.2"/>
<rect x="457.42" y="402.50" width="3.80" height="36.30" fill="#1d9bb6"/>
<line x1="459.32" y1="398.8" x2="459.32" y2="402.5" stroke="#000" stroke-width="0.95"/>
<line x1="458.02" y1="398.8" x2="460.62" y2="398.8" stroke="#000" stroke-width="0.95"/>
<rect x="462.92" y="422.00" width="3.80" height="16.80" fill="#333333"/>
<line x1="464.82" y1="418.2" x2="464.82" y2="422" stroke="#000" stroke-width="0.95"/>
<line x1="463.52" y1="418.2" x2="466.12" y2="418.2" stroke="#000" stroke-width="0.95"/>
<text transform="translate(465.40 449.60) rotate(-45)" font-size="8.4" text-anchor="end" stroke="#1a1a1a" stroke-width="0.13">CCL5</text>
<line x1="476.86" y1="438.8" x2="476.86" y2="443.1" stroke="#000" stroke-width="1.2"/>
<rect x="472.11" y="350.50" width="3.80" height="88.30" fill="#1d9bb6"/>
<line x1="474.01" y1="348" x2="474.01" y2="350.5" stroke="#000" stroke-width="0.95"/>
<line x1="472.71" y1="348" x2="475.31" y2="348" stroke="#000" stroke-width="0.95"/>
<rect x="477.61" y="382.50" width="3.80" height="56.30" fill="#333333"/>
<line x1="479.51" y1="380.4" x2="479.51" y2="382.5" stroke="#000" stroke-width="0.95"/>
<line x1="478.21" y1="380.4" x2="480.81" y2="380.4" stroke="#000" stroke-width="0.95"/>
<text transform="translate(480.10 449.60) rotate(-45)" font-size="8.4" text-anchor="end" font-weight="bold" stroke="#1a1a1a" stroke-width="0.18">CXCL2/3</text>
<line x1="491.55" y1="438.8" x2="491.55" y2="443.1" stroke="#000" stroke-width="1.2"/>
<rect x="486.80" y="333.80" width="3.80" height="105.00" fill="#1d9bb6"/>
<rect x="492.30" y="333.80" width="3.80" height="105.00" fill="#333333"/>
<text transform="translate(494.80 449.60) rotate(-45)" font-size="8.4" text-anchor="end" stroke="#1a1a1a" stroke-width="0.13">CXCL9</text>
<line x1="506.24" y1="438.8" x2="506.24" y2="443.1" stroke="#000" stroke-width="1.2"/>
<rect x="501.49" y="367.20" width="3.80" height="71.60" fill="#1d9bb6"/>
<line x1="503.39" y1="364.4" x2="503.39" y2="367.2" stroke="#000" stroke-width="0.95"/>
<line x1="502.09" y1="364.4" x2="504.69" y2="364.4" stroke="#000" stroke-width="0.95"/>
<rect x="506.99" y="375.20" width="3.80" height="63.60" fill="#333333"/>
<line x1="508.89" y1="372.7" x2="508.89" y2="375.2" stroke="#000" stroke-width="0.95"/>
<line x1="507.59" y1="372.7" x2="510.19" y2="372.7" stroke="#000" stroke-width="0.95"/>
<text transform="translate(509.40 449.60) rotate(-45)" font-size="8.4" text-anchor="end" stroke="#1a1a1a" stroke-width="0.13">CXCL10</text>
<text transform="translate(50.10 374.60)" font-size="7.6" text-anchor="middle" stroke="#1a1a1a" stroke-width="0.3" letter-spacing="0.9">**</text>
<text transform="translate(79.50 418.10)" font-size="7.6" text-anchor="middle" stroke="#1a1a1a" stroke-width="0.3" letter-spacing="0.9">**</text>
<text transform="translate(106.80 380.60)" font-size="7.6" text-anchor="middle" stroke="#1a1a1a" stroke-width="0.3" letter-spacing="0.9">*</text>
<text transform="translate(121.50 393.10)" font-size="7.6" text-anchor="middle" stroke="#1a1a1a" stroke-width="0.3" letter-spacing="0.9">*</text>
<text transform="translate(194.90 369.60)" font-size="7.6" text-anchor="middle" stroke="#1a1a1a" stroke-width="0.3" letter-spacing="0.9">*</text>
<text transform="translate(343.90 374.10)" font-size="7.6" text-anchor="middle" stroke="#1a1a1a" stroke-width="0.3" letter-spacing="0.9">**</text>
<text transform="translate(358.60 364.10)" font-size="7.6" text-anchor="middle" stroke="#1a1a1a" stroke-width="0.3" letter-spacing="0.9">**</text>
<text transform="translate(371.20 380.10)" font-size="7.6" text-anchor="middle" stroke="#1a1a1a" stroke-width="0.3" letter-spacing="0.9">*</text>
<text transform="translate(474.00 341.60)" font-size="7.6" text-anchor="middle" stroke="#1a1a1a" stroke-width="0.3" letter-spacing="0.9">*</text>
<text transform="translate(255.30 350.00)" font-size="10.25" text-anchor="middle" stroke="#1a1a1a" stroke-width="0.22">orthotopic KPC.1</text>
<rect x="56.50" y="337.20" width="11.50" height="5.40" fill="#1d9bb6"/>
<rect x="56.50" y="350.00" width="11.50" height="5.40" fill="#333333"/>
<text transform="translate(74.50 343.70) scale(0.95 1)" font-size="10.6" stroke="#1a1a1a" stroke-width="0.22">LCL161</text>
<text transform="translate(74.50 356.60) scale(0.95 1)" font-size="10.6" stroke="#1a1a1a" stroke-width="0.22">vehicle</text>
<text transform="translate(114.40 509.40)" font-size="10.2" text-anchor="middle" stroke="#1a1a1a" stroke-width="0.22">orthotopic KPC.1</text>
<line x1="46.3" y1="525.3249999999999" x2="46.3" y2="673.4" stroke="#1a1a1a" stroke-width="1.2"/>
<line x1="45.699999999999996" y1="672.8" x2="203" y2="672.8" stroke="#1a1a1a" stroke-width="1.2"/>
<line x1="42.0" y1="672.8" x2="46.3" y2="672.8" stroke="#1a1a1a" stroke-width="1.2"/>
<text transform="translate(42.10 676.30) scale(1.03 1)" font-size="9.8" text-anchor="end" stroke="#1a1a1a" stroke-width="0.22">0</text>
<line x1="42.0" y1="643.425" x2="46.3" y2="643.425" stroke="#1a1a1a" stroke-width="1.2"/>
<text transform="translate(40.70 646.92) scale(1.03 1)" font-size="9.8" text-anchor="end" stroke="#1a1a1a" stroke-width="0.22">0.05</text>
<line x1="42.0" y1="614.05" x2="46.3" y2="614.05" stroke="#1a1a1a" stroke-width="1.2"/>
<text transform="translate(40.70 617.55) scale(1.03 1)" font-size="9.8" text-anchor="end" stroke="#1a1a1a" stroke-width="0.22">0.10</text>
<line x1="42.0" y1="584.675" x2="46.3" y2="584.675" stroke="#1a1a1a" stroke-width="1.2"/>
<text transform="translate(40.70 588.17) scale(1.03 1)" font-size="9.8" text-anchor="end" stroke="#1a1a1a" stroke-width="0.22">0.15</text>
<line x1="42.0" y1="555.3" x2="46.3" y2="555.3" stroke="#1a1a1a" stroke-width="1.2"/>
<text transform="translate(40.70 558.80) scale(1.03 1)" font-size="9.8" text-anchor="end" stroke="#1a1a1a" stroke-width="0.22">0.20</text>
<line x1="42.0" y1="525.925" x2="46.3" y2="525.925" stroke="#1a1a1a" stroke-width="1.2"/>
<text transform="translate(40.70 529.42) scale(1.03 1)" font-size="9.8" text-anchor="end" stroke="#1a1a1a" stroke-width="0.22">0.25</text>
<text transform="translate(17.30 594.40) rotate(-90)" font-size="10.3" text-anchor="middle" stroke="#1a1a1a" stroke-width="0.22">Tumor weight (g)</text>
<defs><linearGradient id="gt" x1="0" x2="0" y1="0" y2="1"><stop offset="0" stop-color="#35b4c6"/><stop offset="0.45" stop-color="#1d94ad"/><stop offset="1" stop-color="#1b8da6"/></linearGradient></defs>
<rect x="54.80" y="623.50" width="16.00" height="49.30" fill="#000"/>
<line x1="62.8" y1="603.5" x2="62.8" y2="623.5" stroke="#1a1a1a" stroke-width="1.1"/>
<line x1="59.0" y1="603.5" x2="66.6" y2="603.5" stroke="#1a1a1a" stroke-width="1.1"/>
<line x1="62.8" y1="672.8" x2="62.8" y2="677.0999999999999" stroke="#1a1a1a" stroke-width="1.2"/>
<rect x="79.30" y="609.00" width="16.00" height="63.80" fill="#8a8b8d"/>
<line x1="87.3" y1="600" x2="87.3" y2="618.5" stroke="#1a1a1a" stroke-width="1.1"/>
<line x1="83.5" y1="600" x2="91.1" y2="600" stroke="#1a1a1a" stroke-width="1.1"/>
<line x1="83.5" y1="618.5" x2="91.1" y2="618.5" stroke="#1a1a1a" stroke-width="1.1"/>
<line x1="87.3" y1="672.8" x2="87.3" y2="677.0999999999999" stroke="#1a1a1a" stroke-width="1.2"/>
<rect x="103.80" y="611.50" width="16.00" height="61.30" fill="#3b3b3b"/>
<line x1="111.8" y1="600.5" x2="111.8" y2="622.5" stroke="#1a1a1a" stroke-width="1.1"/>
<line x1="108.0" y1="600.5" x2="115.6" y2="600.5" stroke="#1a1a1a" stroke-width="1.1"/>
<line x1="108.0" y1="622.5" x2="115.6" y2="622.5" stroke="#1a1a1a" stroke-width="1.1"/>
<line x1="111.8" y1="672.8" x2="111.8" y2="677.0999999999999" stroke="#1a1a1a" stroke-width="1.2"/>
<rect x="128.30" y="668.80" width="16.00" height="4.00" fill="#1d9bb6"/>
<line x1="136.3" y1="666.7" x2="136.3" y2="671" stroke="#1a1a1a" stroke-width="1.1"/>
<line x1="132.5" y1="666.7" x2="140.10000000000002" y2="666.7" stroke="#1a1a1a" stroke-width="1.1"/>
<line x1="132.5" y1="671" x2="140.10000000000002" y2="671" stroke="#1a1a1a" stroke-width="1.1"/>
<line x1="136.3" y1="672.8" x2="136.3" y2="677.0999999999999" stroke="#1a1a1a" stroke-width="1.2"/>
<rect x="152.80" y="661.80" width="16.00" height="11.00" fill="url(#gt)"/>
<line x1="160.8" y1="658.7" x2="160.8" y2="665" stroke="#1a1a1a" stroke-width="1.1"/>
<line x1="157.0" y1="658.7" x2="164.60000000000002" y2="658.7" stroke="#1a1a1a" stroke-width="1.1"/>
<line x1="157.0" y1="665" x2="164.60000000000002" y2="665" stroke="#1a1a1a" stroke-width="1.1"/>
<line x1="160.8" y1="672.8" x2="160.8" y2="677.0999999999999" stroke="#1a1a1a" stroke-width="1.2"/>
<rect x="177.30" y="662.50" width="16.00" height="10.30" fill="#46bccb"/>
<line x1="185.3" y1="659.7" x2="185.3" y2="665.3" stroke="#1a1a1a" stroke-width="1.1"/>
<line x1="181.5" y1="659.7" x2="189.10000000000002" y2="659.7" stroke="#1a1a1a" stroke-width="1.1"/>
<line x1="181.5" y1="665.3" x2="189.10000000000002" y2="665.3" stroke="#1a1a1a" stroke-width="1.1"/>
<line x1="185.3" y1="672.8" x2="185.3" y2="677.0999999999999" stroke="#1a1a1a" stroke-width="1.2"/>
<circle cx="62.7" cy="557.2" r="2.7" fill="#1a1a1a"/>
<circle cx="62.7" cy="599.3" r="2.7" fill="#1a1a1a"/>
<circle cx="87.2" cy="583" r="2.1" fill="#fff" stroke="#1a1a1a" stroke-width="1.3"/>
<circle cx="87.2" cy="595" r="2.1" fill="#fff" stroke="#1a1a1a" stroke-width="1.3"/>
<circle cx="81" cy="617.6" r="2.1" fill="#fff" stroke="#1a1a1a" stroke-width="1.3"/>
<circle cx="93" cy="615.5" r="2.1" fill="#fff" stroke="#1a1a1a" stroke-width="1.3"/>
<circle cx="87.2" cy="633" r="2.1" fill="#fff" stroke="#1a1a1a" stroke-width="1.3"/>
<circle cx="111.7" cy="569.5" r="2.7" fill="#1a1a1a"/>
<circle cx="111.7" cy="611.5" r="2.7" fill="#1a1a1a"/>
<circle cx="111.7" cy="620" r="2.7" fill="#1a1a1a"/>
<circle cx="111.7" cy="626.5" r="2.7" fill="#1a1a1a"/>
<circle cx="111.7" cy="631" r="2.7" fill="#1a1a1a"/>
<circle cx="130.3" cy="665.5" r="2.1" fill="#fff" stroke="#1a1a1a" stroke-width="1.2"/>
<circle cx="130.3" cy="670.3" r="2.1" fill="#fff" stroke="#1a1a1a" stroke-width="1.2"/>
<circle cx="136.5" cy="668.7" r="2.1" fill="#fff" stroke="#1a1a1a" stroke-width="1.2"/>
<circle cx="141.5" cy="670.5" r="2.1" fill="#fff" stroke="#1a1a1a" stroke-width="1.2"/>
<circle cx="142.5" cy="666.3" r="2.1" fill="#fff" stroke="#1a1a1a" stroke-width="1.2"/>
<circle cx="154.3" cy="658.3" r="2.7" fill="#1a1a1a"/>
<circle cx="155" cy="665.3" r="2.7" fill="#1a1a1a"/>
<circle cx="160.5" cy="664.3" r="2.7" fill="#1a1a1a"/>
<circle cx="166.5" cy="654.2" r="2.7" fill="#1a1a1a"/>
<circle cx="166" cy="665.5" r="2.7" fill="#1a1a1a"/>
<circle cx="179" cy="661.3" r="2.7" fill="#1a1a1a"/>
<circle cx="179.5" cy="666.3" r="2.7" fill="#1a1a1a"/>
<circle cx="185.5" cy="657.5" r="2.7" fill="#1a1a1a"/>
<circle cx="191.5" cy="661" r="2.7" fill="#1a1a1a"/>
<circle cx="191" cy="666" r="2.7" fill="#1a1a1a"/>
<line x1="58.3" y1="528.3" x2="136.7" y2="528.3" stroke="#3c3c3c" stroke-width="1.15"/>
<line x1="80.3" y1="540.8" x2="159.5" y2="540.8" stroke="#3c3c3c" stroke-width="1.15"/>
<line x1="108.7" y1="552.1" x2="182.3" y2="552.1" stroke="#3c3c3c" stroke-width="1.15"/>
<text transform="translate(58.90 525.20)" font-size="8.4" fill="#3c3c3c" stroke="#3c3c3c" stroke-width="0.1">p=0.03</text>
<text transform="translate(82.60 538.00)" font-size="8.4" fill="#3c3c3c" stroke="#3c3c3c" stroke-width="0.1">p=0.008</text>
<text transform="translate(110.40 549.60)" font-size="8.4" fill="#3c3c3c" stroke="#3c3c3c" stroke-width="0.1">p=0.008</text>
<line x1="134.3" y1="625.1" x2="183.3" y2="625.1" stroke="#3c3c3c" stroke-width="1.15"/>
<line x1="133.3" y1="638.2" x2="162.3" y2="638.2" stroke="#3c3c3c" stroke-width="1.15"/>
<text transform="translate(146.50 622.50)" font-size="8.3" text-anchor="middle" fill="#3c3c3c" stroke="#3c3c3c" stroke-width="0.1">n.s.</text>
<text transform="translate(146.50 635.70)" font-size="8.3" text-anchor="middle" fill="#3c3c3c" stroke="#3c3c3c" stroke-width="0.1">n.s.</text>
<text transform="translate(72.30 680.20) rotate(-45)" font-size="10.3" text-anchor="end" stroke="#1a1a1a" stroke-width="0.22">isotype</text>
<text transform="translate(96.80 680.20) rotate(-45)" font-size="10.3" text-anchor="end" stroke="#1a1a1a" stroke-width="0.22">aGMCSF</text>
<text transform="translate(121.30 680.20) rotate(-45)" font-size="10.3" text-anchor="end" stroke="#1a1a1a" stroke-width="0.22">aIFNaR</text>
<text transform="translate(145.80 680.20) rotate(-45)" font-size="10.3" text-anchor="end" stroke="#1a1a1a" stroke-width="0.22">isotype</text>
<text transform="translate(170.30 680.20) rotate(-45)" font-size="10.3" text-anchor="end" stroke="#1a1a1a" stroke-width="0.22">aGMCSF</text>
<text transform="translate(194.80 680.20) rotate(-45)" font-size="10.3" text-anchor="end" stroke="#1a1a1a" stroke-width="0.22">aIFNaR</text>
<line x1="49" y1="716.2" x2="116.3" y2="716.2" stroke="#3c3c3c" stroke-width="1.15"/>
<line x1="127" y1="716.2" x2="194.7" y2="716.2" stroke="#1d9bb6" stroke-width="1.15"/>
<text transform="translate(84.00 730.70)" font-size="10.3" text-anchor="middle" stroke="#1a1a1a" stroke-width="0.22">vehicle</text>
<text transform="translate(161.40 730.70)" font-size="10.2" text-anchor="middle" font-weight="bold" fill="#1e93ad">LCL161</text>
<text transform="translate(310.80 545.00)" font-size="10.2" text-anchor="middle" stroke="#1a1a1a" stroke-width="0.22">in vitro supernatants</text>
<line x1="290.8" y1="564.0999999999999" x2="290.8" y2="670.0" stroke="#1a1a1a" stroke-width="1.2"/>
<line x1="290.2" y1="669.4" x2="353.5" y2="669.4" stroke="#1a1a1a" stroke-width="1.2"/>
<line x1="286.2" y1="669.4" x2="290.8" y2="669.4" stroke="#1a1a1a" stroke-width="1.2"/>
<text transform="translate(283.80 672.90) scale(1.04 1)" font-size="9.8" text-anchor="end" stroke="#1a1a1a" stroke-width="0.22">0</text>
<line x1="286.2" y1="634.5" x2="290.8" y2="634.5" stroke="#1a1a1a" stroke-width="1.2"/>
<text transform="translate(283.80 638.00) scale(1.04 1)" font-size="9.8" text-anchor="end" stroke="#1a1a1a" stroke-width="0.22">5000</text>
<line x1="286.2" y1="599.6" x2="290.8" y2="599.6" stroke="#1a1a1a" stroke-width="1.2"/>
<text transform="translate(283.80 603.10) scale(1.04 1)" font-size="9.8" text-anchor="end" stroke="#1a1a1a" stroke-width="0.22">10000</text>
<line x1="286.2" y1="564.6999999999999" x2="290.8" y2="564.6999999999999" stroke="#1a1a1a" stroke-width="1.2"/>
<text transform="translate(283.80 568.20) scale(1.04 1)" font-size="9.8" text-anchor="end" stroke="#1a1a1a" stroke-width="0.22">15000</text>
<text transform="translate(249.60 608.70) rotate(-90)" font-size="10.3" text-anchor="middle" stroke="#1a1a1a" stroke-width="0.22">GM-CSF(ug/ml)</text>
<rect x="299.50" y="668.20" width="17.70" height="1.20" fill="#333"/>
<line x1="308.3" y1="667.6" x2="308.3" y2="668.5" stroke="#1a1a1a" stroke-width="1.0"/>
<line x1="303.8" y1="667.6" x2="312.8" y2="667.6" stroke="#1a1a1a" stroke-width="1.0"/>
<rect x="326.00" y="574.80" width="17.70" height="94.60" fill="#13814a"/>
<line x1="334.8" y1="572.5" x2="334.8" y2="575" stroke="#1a1a1a" stroke-width="1.1"/>
<line x1="330.40000000000003" y1="572.5" x2="339.2" y2="572.5" stroke="#1a1a1a" stroke-width="1.1"/>
<line x1="308.3" y1="669.4" x2="308.3" y2="674.0" stroke="#1a1a1a" stroke-width="1.2"/>
<line x1="334.8" y1="669.4" x2="334.8" y2="674.0" stroke="#1a1a1a" stroke-width="1.2"/>
<text transform="translate(315.60 684.40) rotate(-45)" font-size="10.3" text-anchor="end" stroke="#1a1a1a" stroke-width="0.22">Empty</text>
<text transform="translate(343.70 681.70) rotate(-45)" font-size="10.3" text-anchor="end" stroke="#1a1a1a" stroke-width="0.22">GM-CSF</text>
<text transform="translate(460.80 542.30)" font-size="10.2" text-anchor="middle" stroke="#1a1a1a" stroke-width="0.22">orthotopic KPC.1</text>
<line x1="432.4" y1="565.1199999999999" x2="432.4" y2="670.9" stroke="#1a1a1a" stroke-width="1.2"/>
<line x1="431.79999999999995" y1="670.3" x2="495" y2="670.3" stroke="#1a1a1a" stroke-width="1.2"/>
<line x1="427.7" y1="670.3" x2="432.4" y2="670.3" stroke="#1a1a1a" stroke-width="1.2"/>
<text transform="translate(426.10 673.80) scale(1.06 1)" font-size="9.8" text-anchor="end" stroke="#1a1a1a" stroke-width="0.22">0</text>
<line x1="427.7" y1="635.4399999999999" x2="432.4" y2="635.4399999999999" stroke="#1a1a1a" stroke-width="1.2"/>
<text transform="translate(426.10 638.94) scale(1.06 1)" font-size="9.8" text-anchor="end" stroke="#1a1a1a" stroke-width="0.22">200</text>
<line x1="427.7" y1="600.5799999999999" x2="432.4" y2="600.5799999999999" stroke="#1a1a1a" stroke-width="1.2"/>
<text transform="translate(426.10 604.08) scale(1.06 1)" font-size="9.8" text-anchor="end" stroke="#1a1a1a" stroke-width="0.22">400</text>
<line x1="427.7" y1="565.7199999999999" x2="432.4" y2="565.7199999999999" stroke="#1a1a1a" stroke-width="1.2"/>
<text transform="translate(426.10 569.22) scale(1.06 1)" font-size="9.8" text-anchor="end" stroke="#1a1a1a" stroke-width="0.22">600</text>
<text transform="translate(403.20 615.20) rotate(-90)" font-size="10.5" text-anchor="middle" stroke="#1a1a1a" stroke-width="0.22">Mass (mg)</text>
<rect x="441.00" y="642.00" width="18.00" height="28.30" fill="#333"/>
<line x1="450" y1="637.3" x2="450" y2="647" stroke="#1a1a1a" stroke-width="1.2"/>
<line x1="445.3" y1="637.3" x2="454.7" y2="637.3" stroke="#1a1a1a" stroke-width="1.2"/>
<line x1="445.3" y1="647" x2="454.7" y2="647" stroke="#1a1a1a" stroke-width="1.2"/>
<circle cx="446.3" cy="631" r="2.9" fill="#1a1a1a"/>
<circle cx="454" cy="631" r="2.9" fill="#1a1a1a"/>
<circle cx="450" cy="637.2" r="2.9" fill="#1a1a1a"/>
<circle cx="450" cy="651.5" r="2.9" fill="#1a1a1a"/>
<circle cx="450" cy="657.5" r="2.9" fill="#1a1a1a"/>
<rect x="467.70" y="628.70" width="17.70" height="41.60" fill="#13814a"/>
<line x1="476.5" y1="608" x2="476.5" y2="648.3" stroke="#1a1a1a" stroke-width="1.2"/>
<line x1="471.8" y1="608" x2="481.2" y2="608" stroke="#1a1a1a" stroke-width="1.2"/>
<line x1="471.8" y1="648.3" x2="481.2" y2="648.3" stroke="#1a1a1a" stroke-width="1.2"/>
<circle cx="476.5" cy="575.7" r="2.25" fill="#fff" stroke="#1a1a1a" stroke-width="1.3"/>
<circle cx="476.5" cy="582" r="2.25" fill="#fff" stroke="#1a1a1a" stroke-width="1.3"/>
<circle cx="471.5" cy="656.3" r="2.25" fill="#fff" stroke="#1a1a1a" stroke-width="1.3"/>
<circle cx="480.8" cy="657" r="2.25" fill="#fff" stroke="#1a1a1a" stroke-width="1.3"/>
<circle cx="476.3" cy="670" r="2.25" fill="#fff" stroke="#1a1a1a" stroke-width="1.3"/>
<line x1="450" y1="670.3" x2="450" y2="675.0" stroke="#1a1a1a" stroke-width="1.2"/>
<line x1="476.5" y1="670.3" x2="476.5" y2="675.0" stroke="#1a1a1a" stroke-width="1.2"/>
<text transform="translate(456.60 685.00) rotate(-45)" font-size="10.3" text-anchor="end" stroke="#1a1a1a" stroke-width="0.22">Empty</text>
<text transform="translate(485.00 682.70) rotate(-45)" font-size="10.3" text-anchor="end" stroke="#1a1a1a" stroke-width="0.22">GM-CSF</text>
</svg>
</body></html>
